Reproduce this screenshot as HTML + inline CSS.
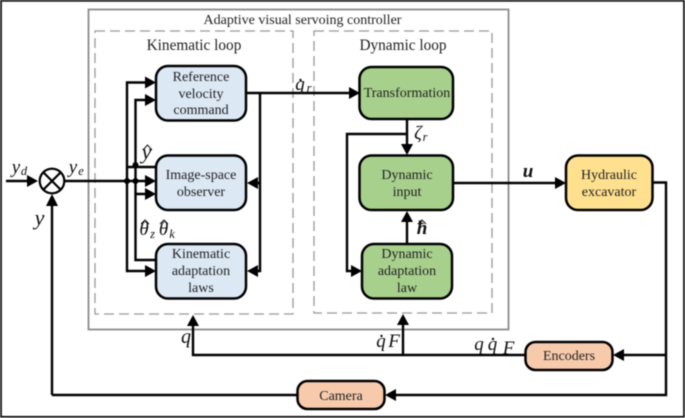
<!DOCTYPE html>
<html>
<head>
<meta charset="utf-8">
<style>
html,body{margin:0;padding:0;background:#fff;width:685px;height:418px;overflow:hidden}
svg{display:block;filter:blur(0.4px)}
text{font-family:"Liberation Serif",serif;fill:#222;font-size:14px;text-anchor:middle}
.t{font-size:15.300px}
.m{font-style:italic;fill:#111;font-size:19px}
.s{font-style:italic;fill:#111;font-size:12.500px}
.l{fill:none;stroke:#000;stroke-width:2.400}
.b{stroke:#000;stroke-width:2.500}
.h{fill:none;stroke:#111;stroke-width:1}
</style>
</head>
<body>
<svg width="685" height="418" viewBox="0 0 685 418" xmlns="http://www.w3.org/2000/svg">
<rect width="685" height="418" fill="#fff"/>
<rect x="1" y="0.800" width="683" height="416" fill="none" stroke="#111" stroke-width="1.800"/>
<rect x="88.500" y="9.500" width="420" height="320" fill="none" stroke="#8c8c8c" stroke-width="1.800"/>
<rect x="95" y="31" width="198" height="283" fill="none" stroke="#999" stroke-width="1.300" stroke-dasharray="10 5"/>
<rect x="314" y="31" width="178" height="282" fill="none" stroke="#999" stroke-width="1.300" stroke-dasharray="10 5"/>

<!-- connectors -->
<path class="l" d="M6 181H32M64 181H150"/>
<path class="l" d="M52 395V199M298 395H52"/>
<path class="l" d="M150 82.500H127V271H150M150 100H135.500V260H156M127 167H156M135.500 194H150"/>
<path class="l" d="M246 93H353M260 93V271H254M260 183H254"/>
<path class="l" d="M407 119V150M407 134H347V271H356M407 244V217"/>
<path class="l" d="M453 183H560"/>
<path class="l" d="M652 182.500H666V395H392M666 355H620"/>
<path class="l" d="M526 355H193V322M403 355V321"/>

<!-- junction dots -->
<circle cx="127" cy="181" r="3" fill="#000"/>
<circle cx="135.500" cy="181" r="3" fill="#000"/>
<circle cx="135.500" cy="165" r="3" fill="#000"/>

<!-- arrowheads -->
<g fill="#000">
<path d="M38 181L27 175V187Z"/>
<path d="M52 194L46 206H58Z"/>
<path d="M156 82.500L145 76.500V88.500Z"/>
<path d="M156 100L145 94V106Z"/>
<path d="M156 181L145 175V187Z"/>
<path d="M156 194L145 188V200Z"/>
<path d="M156 271L145 265V277Z"/>
<path d="M247 183L258 177V189Z"/>
<path d="M247 271L258 265V277Z"/>
<path d="M360 93L349 87V99Z"/>
<path d="M407 155L401 144H413Z"/>
<path d="M407 211L401 222H413Z"/>
<path d="M362 271L351 265V277Z"/>
<path d="M566 183L555 177V189Z"/>
<path d="M613 355L624 349V361Z"/>
<path d="M385 395L396 389V401Z"/>
<path d="M193 315L187 326H199Z"/>
<path d="M403 314L397 325H409Z"/>
</g>

<!-- summing junction -->
<circle cx="52" cy="181" r="12.300" fill="#fff" stroke="#000" stroke-width="2.200"/>
<path d="M43.500 172.500L60.500 189.500M60.500 172.500L43.500 189.500" stroke="#000" stroke-width="2.200"/>

<!-- boxes -->
<rect class="b" x="156" y="66" width="90" height="54.500" rx="12" fill="#dce8f4"/>
<rect class="b" x="156" y="155.500" width="90" height="54.500" rx="12" fill="#dce8f4"/>
<rect class="b" x="156" y="244" width="90" height="54.500" rx="12" fill="#dce8f4"/>
<rect class="b" x="359.500" y="67" width="93.500" height="52" rx="12" fill="#a8d08d"/>
<rect class="b" x="359.500" y="155.500" width="93.500" height="54.500" rx="12" fill="#a8d08d"/>
<rect class="b" x="362" y="244" width="90" height="54.500" rx="12" fill="#a8d08d"/>
<rect class="b" x="566" y="155.500" width="86.500" height="54.500" rx="12" fill="#ffe08f"/>
<rect class="b" x="525.500" y="342" width="87" height="28" rx="10" fill="#f7caac"/>
<rect class="b" x="297.500" y="381" width="87" height="28" rx="10" fill="#f7caac"/>

<!-- titles -->
<text x="302.500" y="24">Adaptive visual servoing controller</text>
<text class="t" x="194" y="50">Kinematic loop</text>
<text class="t" x="403" y="50">Dynamic loop</text>

<!-- box labels -->
<text x="201" y="81">Reference</text>
<text x="201" y="98">velocity</text>
<text x="201" y="114">command</text>
<text x="201" y="179">Image-space</text>
<text x="201" y="196">observer</text>
<text x="201" y="258">Kinematic</text>
<text x="201" y="275">adaptation</text>
<text x="201" y="292">laws</text>
<text x="407" y="97">Transformation</text>
<text x="407" y="179">Dynamic</text>
<text x="407" y="196">input</text>
<text x="407" y="258">Dynamic</text>
<text x="407" y="275">adaptation</text>
<text x="407" y="292">law</text>
<text x="609" y="179">Hydraulic</text>
<text x="609" y="196">excavator</text>
<text x="569" y="360">Encoders</text>
<text x="341" y="400">Camera</text>

<!-- math labels -->
<text class="m" x="16" y="173">y</text><text class="s" x="24" y="175">d</text>
<text class="m" x="73" y="173">y</text><text class="s" x="81" y="175">e</text>
<text class="m" x="39.500" y="225" style="font-size:22px">y</text>
<text class="m" x="146.500" y="159" style="font-size:22px">y</text><path class="h" d="M143 150L147.500 145L152 150"/>
<text class="m" x="144" y="235">θ</text><path class="h" d="M141 224L145 220L149 224"/><text class="s" x="152.500" y="238">z</text>
<text class="m" x="163.500" y="235">θ</text><path class="h" d="M160 224L164 220L168 224"/><text class="s" x="172" y="238">k</text>
<text class="m" x="300" y="90">q</text><circle cx="300.500" cy="80" r="1.200" fill="#111"/><text class="s" x="309" y="92">r</text>
<text class="m" x="418" y="139">ζ</text><text class="s" x="425" y="141">r</text>
<text class="m" x="422" y="234" style="font-weight:bold">ħ</text><path class="h" d="M418 224L422 220L426 224"/>
<text class="m" x="528" y="177" style="font-size:19px;font-weight:bold">u</text>
<text class="m" x="186" y="343" style="font-size:20px">q</text>
<text class="m" x="381" y="347">q</text><circle cx="381.500" cy="336" r="1.200" fill="#111"/>
<text class="m" x="394" y="347">F</text>
<text class="m" x="479" y="350">q</text>
<text class="m" x="492.500" y="350">q</text><circle cx="493" cy="339" r="1.200" fill="#111"/>
<text class="m" x="508.500" y="354">F</text>
</svg>
</body>
</html>
